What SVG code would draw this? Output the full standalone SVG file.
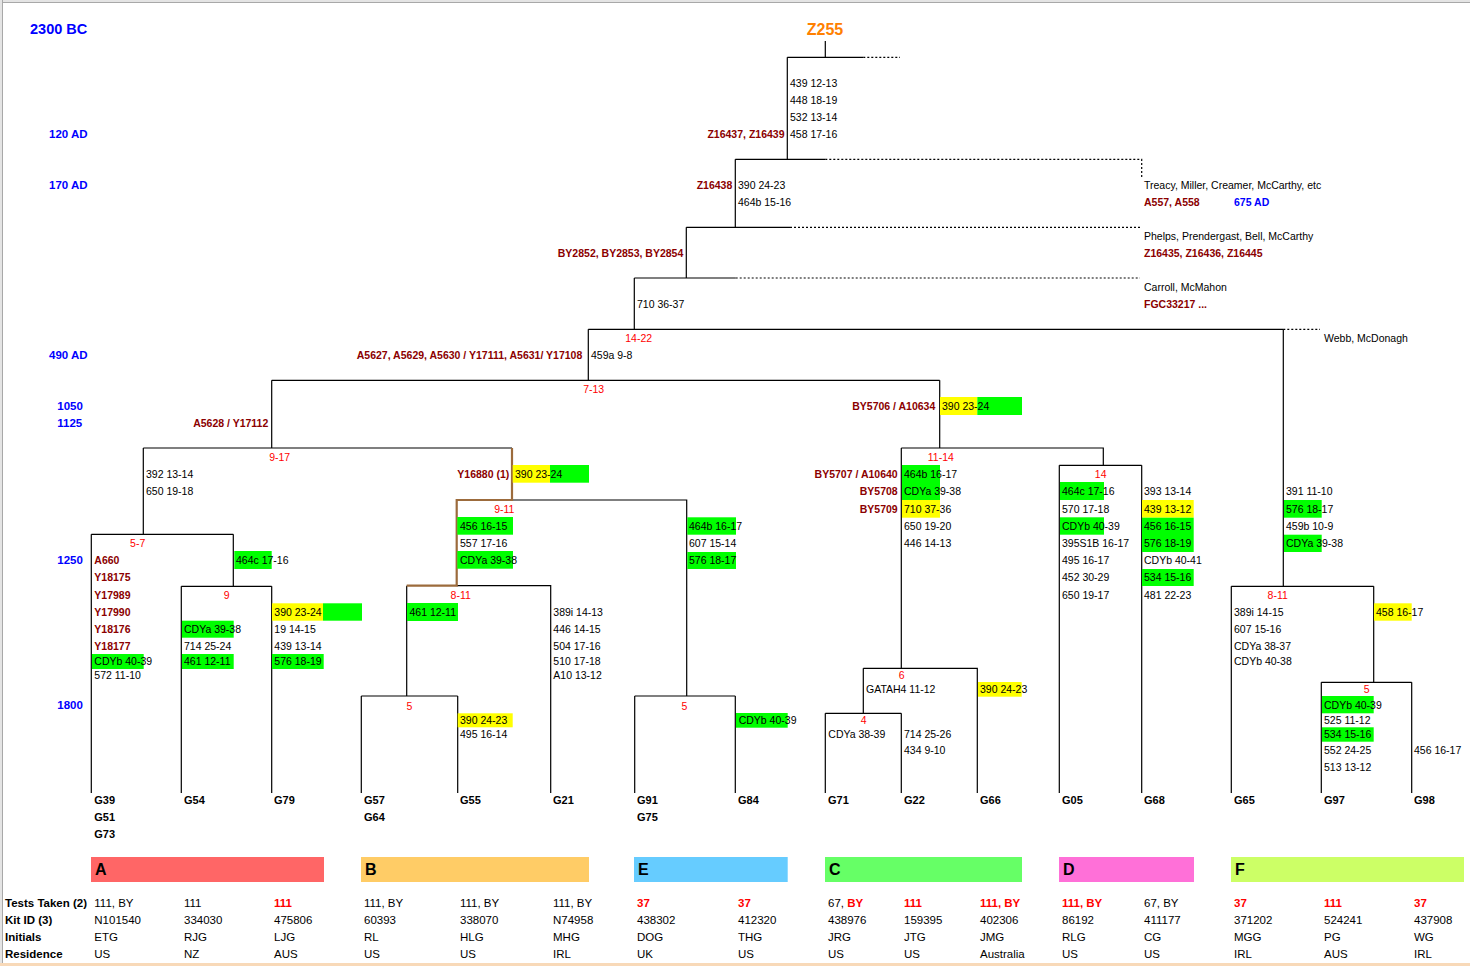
<svg xmlns="http://www.w3.org/2000/svg" width="1470" height="966" viewBox="0 0 1470 966">
<style>
text{font-family:"Liberation Sans",Arial,sans-serif;font-size:10.5px;fill:#000}
.r{fill:#FF0000;text-anchor:middle}
.m{fill:#8B0000;font-weight:bold}
.e{text-anchor:end}
.d{fill:#0000FF;font-weight:bold;font-size:11.5px}
.lf{font-weight:bold;font-size:11px}
.tb{font-size:11.5px}
.th{font-size:11.5px;font-weight:bold}
.rb{fill:#FF0000;font-weight:bold}
.bl{font-weight:bold;font-size:16px}
.ln{fill:none;stroke:#000;stroke-width:1.2}
.dt{fill:none;stroke:#000;stroke-width:1.2;stroke-dasharray:2 2}
.br{fill:none;stroke:#9C6B3C;stroke-width:2.2}
.hg{fill:#00FF00}
.hy{fill:#FFFF00}
</style>
<rect x="0" y="0" width="1470" height="966" fill="#fff"/>
<g id="sheet-frame">
<rect x="0" y="0" width="1470" height="2.5" fill="#e4e4e4"/>
<line x1="0" y1="2.5" x2="1470" y2="2.5" stroke="#a8a8a8" stroke-width="1"/>
<rect x="0" y="0" width="2.5" height="966" fill="#e4e4e4"/>
<line x1="2.5" y1="0" x2="2.5" y2="966" stroke="#a8a8a8" stroke-width="1"/>
<rect x="0" y="963" width="1470" height="3" fill="#F8D9B8"/>
</g>

<g id="connectors">
<path class="ln" d="M825.3,41 V57.3 M787.3,57.3 H863.3 M787.3,57.3 V159.3 M735.3,159.3 H825.3 M735.3,159.3 V227.3 M686.3,227.3 H790 M686.3,227.3 V278 M634.3,278 H735.7 M634.3,278 V329.3 M588.3,329.3 H1283.3 M588.3,329.3 V380.3 M271.7,380.3 H939.7 M271.7,380.3 V448 M143.3,448 H512 M143.3,448 V534.3 M91.3,534.3 H233.3 M91.3,534.3 V793 M233.3,534.3 V586.3 M181.3,586.3 H271.7 M181.3,586.3 V793 M271.7,586.3 V793"/>
<path class="ln" d="M512,500 H686.7 V696 M456.7,585.7 H550.7 V793 M406.7,585.7 V696 M361.3,696 H457.7 M361.3,696 V793 M457.7,696 V793 M634.7,696 H735.3 M634.7,696 V793 M735.3,696 V793"/>
<path class="ln" d="M939.7,380.3 V448 M901.3,448 H1103.3 V465.3 M901.3,448 V668.3 M1059.3,465.3 H1141.7 M1059.3,465.3 V793 M1141.7,465.3 V793 M863.3,668.3 H977.3 V793 M863.3,668.3 V713.3 M825.3,713.3 H901.3 M825.3,713.3 V793 M901.3,713.3 V793"/>
<path class="ln" d="M1283.3,329.3 V586.3 M1231.3,586.3 H1373.7 M1231.3,586.3 V793 M1373.7,586.3 V682.3 M1321.3,682.3 H1411.7 M1321.3,682.3 V793 M1411.7,682.3 V793"/>
<path class="br" d="M512,448 V500 H456.7 V585.7 H406.7"/>
<path class="dt" d="M863.3,57.3 H900 M825.3,159.3 H1141.7 V177 M790,227.3 H1141.7 M735.7,278 H1140 M1283.3,329.3 H1320"/>
</g>

<g id="time-axis">
<text class="d" x="30" y="34.2" style="font-size:14.5px">2300 BC</text>
<text class="d" x="49" y="138">120 AD</text>
<text class="d" x="49" y="189">170 AD</text>
<text class="d" x="49" y="359">490 AD</text>
<text class="d" x="57.3" y="410">1050</text>
<text class="d" x="57.3" y="427">1125</text>
<text class="d" x="57.3" y="564">1250</text>
<text class="d" x="57.3" y="709">1800</text>
</g>

<g id="root-Z255">
<text x="825" y="34.7" style="font-size:16px;font-weight:bold;fill:#FF8000;text-anchor:middle">Z255</text>
</g>

<g id="node-Z16437">
<text class="m e" x="784.5" y="137.8">Z16437, Z16439</text>
<text x="790" y="87.1">439 12-13</text>
<text x="790" y="103.8">448 18-19</text>
<text x="790" y="120.8">532 13-14</text>
<text x="790" y="137.8">458 17-16</text>
</g>

<g id="node-Z16438">
<text class="m e" x="732.3" y="188.8">Z16438</text>
<text x="738" y="188.8">390 24-23</text>
<text x="738" y="205.8">464b 15-16</text>
</g>

<g id="node-BY2852">
<text class="m e" x="683.3" y="256.8">BY2852, BY2853, BY2854</text>
</g>

<g id="node-710">
<text x="637" y="307.8">710 36-37</text>
</g>

<g id="branch-treacy">
<text x="1144" y="188.8">Treacy, Miller, Creamer, McCarthy, etc</text>
<text class="m" x="1144" y="205.8">A557, A558</text>
<text class="d" x="1234" y="205.8" style="font-size:10.5px">675 AD</text>
</g>
<g id="branch-phelps">
<text x="1144" y="239.8">Phelps, Prendergast, Bell, McCarthy</text>
<text class="m" x="1144" y="256.8">Z16435, Z16436, Z16445</text>
</g>
<g id="branch-carroll">
<text x="1144" y="290.8">Carroll, McMahon</text>
<text class="m" x="1144" y="307.8">FGC33217 ...</text>
</g>
<g id="branch-webb">
<text x="1324" y="341.8">Webb, McDonagh</text>
</g>

<g id="node-A5627">
<text class="r" x="638.7" y="341.8">14-22</text>
<text class="m e" x="582.3" y="358.8">A5627, A5629, A5630 / Y17111, A5631/ Y17108</text>
<text x="591" y="358.8">459a 9-8</text>
<text class="r" x="593.7" y="392.8">7-13</text>
</g>

<g id="node-A5628">
<text class="m e" x="268.3" y="426.8">A5628 / Y17112</text>
<text class="r" x="279.7" y="460.8">9-17</text>
<text x="146" y="477.8">392 13-14</text>
<text x="146" y="494.8">650 19-18</text>
</g>

<g id="node-5-7">
<text class="r" x="137.7" y="546.8">5-7</text>
<text class="m" x="94.3" y="563.8">A660</text>
<text class="m" x="94.3" y="580.8">Y18175</text>
<text class="m" x="94.3" y="598.8">Y17989</text>
<text class="m" x="94.3" y="615.8">Y17990</text>
<text class="m" x="94.3" y="632.8">Y18176</text>
<text class="m" x="94.3" y="649.8">Y18177</text>
<rect class="hg" x="92" y="654" width="51.7" height="15"/>
<text x="94.3" y="664.8">CDYb 40-39</text>
<text x="94.3" y="678.8">572 11-10</text>
<rect class="hg" x="234.3" y="551" width="37.4" height="18"/>
<text x="236" y="563.8">464c 17-16</text>
</g>

<g id="node-9">
<text class="r" x="226.7" y="598.8">9</text>
<rect class="hg" x="182" y="620.7" width="51.7" height="17"/>
<text x="184" y="632.8">CDYa 39-38</text>
<text x="184" y="649.8">714 25-24</text>
<rect class="hg" x="182" y="654" width="51.7" height="15"/>
<text x="184" y="664.8">461 12-11</text>
</g>

<g id="node-G79-markers">
<rect class="hy" x="272" y="603.3" width="51" height="17.4"/>
<rect class="hg" x="323" y="603.3" width="39" height="17.4"/>
<text x="274.3" y="615.8">390 23-24</text>
<text x="274.3" y="632.8">19 14-15</text>
<text x="274.3" y="649.8">439 13-14</text>
<rect class="hg" x="272" y="654" width="51.7" height="15"/>
<text x="274.3" y="664.8">576 18-19</text>
</g>

<g id="node-Y16880">
<text class="m e" x="509.3" y="477.8">Y16880 (1)</text>
<rect class="hy" x="512.7" y="465" width="37.3" height="17.7"/>
<rect class="hg" x="550" y="465" width="39" height="17.7"/>
<text x="515" y="477.8">390 23-24</text>
</g>

<g id="node-9-11">
<text class="r" x="504.3" y="512.8">9-11</text>
<rect class="hg" x="457.3" y="517" width="55.7" height="17.7"/>
<text x="460" y="529.8">456 16-15</text>
<text x="460" y="546.8">557 17-16</text>
<rect class="hg" x="457.3" y="551" width="55.7" height="17.7"/>
<text x="460" y="563.8">CDYa 39-38</text>
</g>

<g id="node-8-11-B">
<text class="r" x="460.7" y="598.8">8-11</text>
<rect class="hg" x="407" y="603" width="51" height="18"/>
<text x="409.5" y="615.8">461 12-11</text>
<text x="553.3" y="615.8">389i 14-13</text>
<text x="553.3" y="632.8">446 14-15</text>
<text x="553.3" y="649.8">504 17-16</text>
<text x="553.3" y="664.8">510 17-18</text>
<text x="553.3" y="678.8">A10 13-12</text>
</g>

<g id="node-5-B">
<text class="r" x="409.3" y="709.5">5</text>
<rect class="hy" x="457.7" y="713.3" width="55" height="14"/>
<text x="460" y="723.8">390 24-23</text>
<text x="460" y="737.8">495 16-14</text>
</g>

<g id="node-E">
<rect class="hg" x="687.3" y="517.3" width="48.7" height="17.4"/>
<text x="689" y="529.8">464b 16-17</text>
<text x="689" y="546.8">607 15-14</text>
<rect class="hg" x="687.3" y="552" width="48.7" height="17"/>
<text x="689" y="563.8">576 18-17</text>
<text class="r" x="684.3" y="709.5">5</text>
<rect class="hg" x="736" y="713" width="51.7" height="14.7"/>
<text x="738.7" y="723.8">CDYb 40-39</text>
</g>

<g id="node-BY5706">
<text class="m e" x="935.3" y="409.8">BY5706 / A10634</text>
<rect class="hy" x="940" y="397" width="37.3" height="18"/>
<rect class="hg" x="977.3" y="397" width="44.7" height="18"/>
<text x="942" y="409.8">390 23-24</text>
</g>

<g id="node-11-14">
<text class="r" x="940.8" y="460.8">11-14</text>
<text class="m e" x="897.7" y="477.8">BY5707 / A10640</text>
<text class="m e" x="897.7" y="494.8">BY5708</text>
<text class="m e" x="897.7" y="512.8">BY5709</text>
<rect class="hg" x="902" y="465" width="38" height="35"/>
<rect class="hy" x="902" y="500" width="38" height="17.7"/>
<text x="904" y="477.8">464b 16-17</text>
<text x="904" y="494.8">CDYa 39-38</text>
<text x="904" y="512.8">710 37-36</text>
<text x="904" y="529.8">650 19-20</text>
<text x="904" y="546.8">446 14-13</text>
</g>

<g id="node-6">
<text class="r" x="901.7" y="679">6</text>
<text x="866" y="692.8">GATAH4 11-12</text>
<rect class="hy" x="978" y="682" width="43.7" height="14.7"/>
<text x="980" y="692.8">390 24-23</text>
</g>

<g id="node-4">
<text class="r" x="863.7" y="724.3">4</text>
<text x="828.3" y="737.8">CDYa 38-39</text>
<text x="904" y="737.8">714 25-26</text>
<text x="904" y="753.8">434 9-10</text>
</g>

<g id="node-14-D">
<text class="r" x="1100.7" y="478">14</text>
<rect class="hg" x="1060" y="482" width="44" height="18"/>
<text x="1062" y="494.8">464c 17-16</text>
<text x="1062" y="512.8">570 17-18</text>
<rect class="hg" x="1060" y="517.3" width="44" height="17.4"/>
<text x="1062" y="529.8">CDYb 40-39</text>
<text x="1062" y="546.8">395S1B 16-17</text>
<text x="1062" y="563.8">495 16-17</text>
<text x="1062" y="580.8">452 30-29</text>
<text x="1062" y="598.8">650 19-17</text>
<rect class="hy" x="1142" y="500" width="51.7" height="17.7"/>
<rect class="hg" x="1142" y="517.7" width="51.7" height="34.3"/>
<rect class="hg" x="1142" y="569" width="51.7" height="17"/>
<text x="1144" y="494.8">393 13-14</text>
<text x="1144" y="512.8">439 13-12</text>
<text x="1144" y="529.8">456 16-15</text>
<text x="1144" y="546.8">576 18-19</text>
<text x="1144" y="563.8">CDYb 40-41</text>
<text x="1144" y="580.8">534 15-16</text>
<text x="1144" y="598.8">481 22-23</text>
</g>

<g id="node-F">
<text x="1286" y="494.8">391 11-10</text>
<rect class="hg" x="1284" y="500" width="37.7" height="17.7"/>
<text x="1286" y="512.8">576 18-17</text>
<text x="1286" y="529.8">459b 10-9</text>
<rect class="hg" x="1284" y="534.7" width="37.7" height="17.3"/>
<text x="1286" y="546.8">CDYa 39-38</text>
</g>

<g id="node-8-11-F">
<text class="r" x="1277.7" y="599">8-11</text>
<text x="1234" y="615.8">389i 14-15</text>
<text x="1234" y="632.8">607 15-16</text>
<text x="1234" y="649.8">CDYa 38-37</text>
<text x="1234" y="664.8">CDYb 40-38</text>
<rect class="hy" x="1374" y="603.3" width="37.7" height="17.4"/>
<text x="1376" y="615.8">458 16-17</text>
</g>

<g id="node-5-F">
<text class="r" x="1366.7" y="693">5</text>
<rect class="hg" x="1322" y="696" width="51.7" height="17.3"/>
<text x="1324" y="708.8">CDYb 40-39</text>
<text x="1324" y="723.8">525 11-12</text>
<rect class="hg" x="1322" y="727.3" width="51.7" height="14.4"/>
<text x="1324" y="737.8">534 15-16</text>
<text x="1324" y="753.8">552 24-25</text>
<text x="1324" y="770.8">513 13-12</text>
<text x="1414" y="753.8">456 16-17</text>
</g>

<g id="leaves">
<text class="lf" x="94.3" y="804">G39</text>
<text class="lf" x="94.3" y="821">G51</text>
<text class="lf" x="94.3" y="838">G73</text>
<text class="lf" x="184" y="804">G54</text>
<text class="lf" x="274" y="804">G79</text>
<text class="lf" x="364" y="804">G57</text>
<text class="lf" x="364" y="821">G64</text>
<text class="lf" x="460" y="804">G55</text>
<text class="lf" x="553" y="804">G21</text>
<text class="lf" x="637" y="804">G91</text>
<text class="lf" x="637" y="821">G75</text>
<text class="lf" x="738" y="804">G84</text>
<text class="lf" x="828" y="804">G71</text>
<text class="lf" x="904" y="804">G22</text>
<text class="lf" x="980" y="804">G66</text>
<text class="lf" x="1062" y="804">G05</text>
<text class="lf" x="1144" y="804">G68</text>
<text class="lf" x="1234" y="804">G65</text>
<text class="lf" x="1324" y="804">G97</text>
<text class="lf" x="1414" y="804">G98</text>
</g>

<g id="groups">
<rect x="91" y="857" width="233" height="25" fill="#FF6666"/>
<text class="bl" x="95" y="875">A</text>
<rect x="361" y="857" width="228" height="25" fill="#FFCC66"/>
<text class="bl" x="365" y="875">B</text>
<rect x="634" y="857" width="153.7" height="25" fill="#66CCFF"/>
<text class="bl" x="638" y="875">E</text>
<rect x="825" y="857" width="197" height="25" fill="#66FF66"/>
<text class="bl" x="829" y="875">C</text>
<rect x="1059" y="857" width="135" height="25" fill="#FF70D8"/>
<text class="bl" x="1063" y="875">D</text>
<rect x="1231" y="857" width="233" height="25" fill="#CCFF66"/>
<text class="bl" x="1235" y="875">F</text>
</g>

<g id="table">
<text class="th" x="5" y="907">Tests Taken (2)</text>
<text class="th" x="5" y="924">Kit ID (3)</text>
<text class="th" x="5" y="941">Initials</text>
<text class="th" x="5" y="958">Residence</text>

<text class="tb" x="94.3" y="907">111, BY</text>
<text class="tb" x="94.3" y="924">N101540</text>
<text class="tb" x="94.3" y="941">ETG</text>
<text class="tb" x="94.3" y="958">US</text>

<text class="tb" x="184" y="907">111</text>
<text class="tb" x="184" y="924">334030</text>
<text class="tb" x="184" y="941">RJG</text>
<text class="tb" x="184" y="958">NZ</text>

<text class="tb rb" x="274" y="907">111</text>
<text class="tb" x="274" y="924">475806</text>
<text class="tb" x="274" y="941">LJG</text>
<text class="tb" x="274" y="958">AUS</text>

<text class="tb" x="364" y="907">111, BY</text>
<text class="tb" x="364" y="924">60393</text>
<text class="tb" x="364" y="941">RL</text>
<text class="tb" x="364" y="958">US</text>

<text class="tb" x="460" y="907">111, BY</text>
<text class="tb" x="460" y="924">338070</text>
<text class="tb" x="460" y="941">HLG</text>
<text class="tb" x="460" y="958">US</text>

<text class="tb" x="553" y="907">111, BY</text>
<text class="tb" x="553" y="924">N74958</text>
<text class="tb" x="553" y="941">MHG</text>
<text class="tb" x="553" y="958">IRL</text>

<text class="tb rb" x="637" y="907">37</text>
<text class="tb" x="637" y="924">438302</text>
<text class="tb" x="637" y="941">DOG</text>
<text class="tb" x="637" y="958">UK</text>

<text class="tb rb" x="738" y="907">37</text>
<text class="tb" x="738" y="924">412320</text>
<text class="tb" x="738" y="941">THG</text>
<text class="tb" x="738" y="958">US</text>

<text class="tb" x="828" y="907">67, <tspan class="rb">BY</tspan></text>
<text class="tb" x="828" y="924">438976</text>
<text class="tb" x="828" y="941">JRG</text>
<text class="tb" x="828" y="958">US</text>

<text class="tb rb" x="904" y="907">111</text>
<text class="tb" x="904" y="924">159395</text>
<text class="tb" x="904" y="941">JTG</text>
<text class="tb" x="904" y="958">US</text>

<text class="tb rb" x="980" y="907">111, BY</text>
<text class="tb" x="980" y="924">402306</text>
<text class="tb" x="980" y="941">JMG</text>
<text class="tb" x="980" y="958">Australia</text>

<text class="tb rb" x="1062" y="907">111, BY</text>
<text class="tb" x="1062" y="924">86192</text>
<text class="tb" x="1062" y="941">RLG</text>
<text class="tb" x="1062" y="958">US</text>

<text class="tb" x="1144" y="907">67, BY</text>
<text class="tb" x="1144" y="924">411177</text>
<text class="tb" x="1144" y="941">CG</text>
<text class="tb" x="1144" y="958">US</text>

<text class="tb rb" x="1234" y="907">37</text>
<text class="tb" x="1234" y="924">371202</text>
<text class="tb" x="1234" y="941">MGG</text>
<text class="tb" x="1234" y="958">IRL</text>

<text class="tb rb" x="1324" y="907">111</text>
<text class="tb" x="1324" y="924">524241</text>
<text class="tb" x="1324" y="941">PG</text>
<text class="tb" x="1324" y="958">AUS</text>

<text class="tb rb" x="1414" y="907">37</text>
<text class="tb" x="1414" y="924">437908</text>
<text class="tb" x="1414" y="941">WG</text>
<text class="tb" x="1414" y="958">IRL</text>
</g>
</svg>
